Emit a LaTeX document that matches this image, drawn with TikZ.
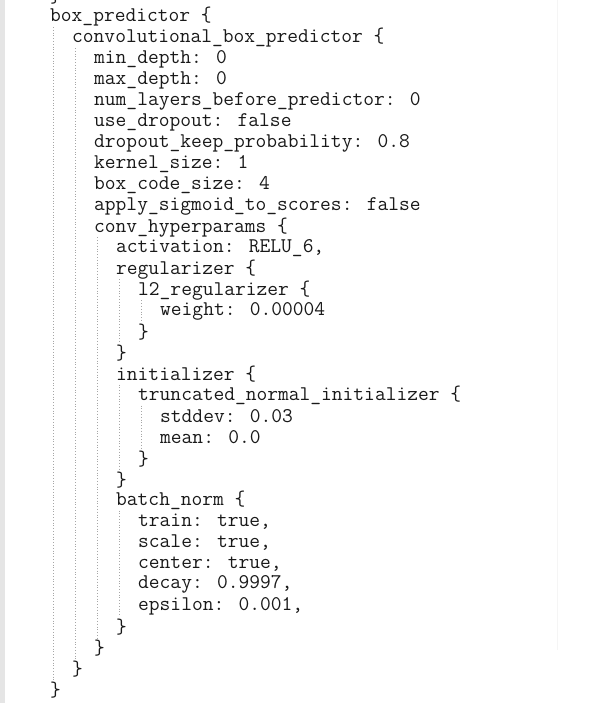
\documentclass[tikz,border=0pt]{standalone}
\begin{document}
\begin{tikzpicture}[x=1pt,y=-1pt,
  codeline/.style={anchor=west,inner sep=0pt,font=\ttfamily\fontsize{20.9}{22}\selectfont,text=black!90},
  guide/.style={draw=black!35,dotted,line width=0.8pt}]
\useasboundingbox (0,0) rectangle (603,703);
\fill[black!10] (0,0) rectangle (5,703);
\draw[black!4] (557,0) -- (557,650);
\def\L#1#2#3{\node[codeline] at ({50+22*#1},{17+21.03*#2}) {#3};}
\node[codeline] at (50,-4) {\}};
\L{0}{0}{box\_predictor \{}
\L{1}{1}{convolutional\_box\_predictor \{}
\L{2}{2}{min\_depth: 0}
\L{2}{3}{max\_depth: 0}
\L{2}{4}{num\_layers\_before\_predictor: 0}
\L{2}{5}{use\_dropout: false}
\L{2}{6}{dropout\_keep\_probability: 0.8}
\L{2}{7}{kernel\_size: 1}
\L{2}{8}{box\_code\_size: 4}
\L{2}{9}{apply\_sigmoid\_to\_scores: false}
\L{2}{10}{conv\_hyperparams \{}
\L{3}{11}{activation: RELU\_6,}
\L{3}{12}{regularizer \{}
\L{4}{13}{l2\_regularizer \{}
\L{5}{14}{weight: 0.00004}
\L{4}{15}{\}}
\L{3}{16}{\}}
\L{3}{17}{initializer \{}
\L{4}{18}{truncated\_normal\_initializer \{}
\L{5}{19}{stddev: 0.03}
\L{5}{20}{mean: 0.0}
\L{4}{21}{\}}
\L{3}{22}{\}}
\L{3}{23}{batch\_norm \{}
\L{4}{24}{train: true,}
\L{4}{25}{scale: true,}
\L{4}{26}{center: true,}
\L{4}{27}{decay: 0.9997,}
\L{4}{28}{epsilon: 0.001,}
\L{3}{29}{\}}
\L{2}{30}{\}}
\L{1}{31}{\}}
\L{0}{32}{\}}
\def\G#1#2#3{\draw[guide] ({53+22*#1},{17+21.03*#2+10}) -- ({53+22*#1},{17+21.03*#3-10});}
\G{0}{0}{32}
\G{1}{1}{31}
\G{2}{10}{30}
\G{3}{12}{16}
\G{4}{13}{15}
\G{3}{17}{22}
\G{4}{18}{21}
\G{3}{23}{29}
\end{tikzpicture}
\end{document}
